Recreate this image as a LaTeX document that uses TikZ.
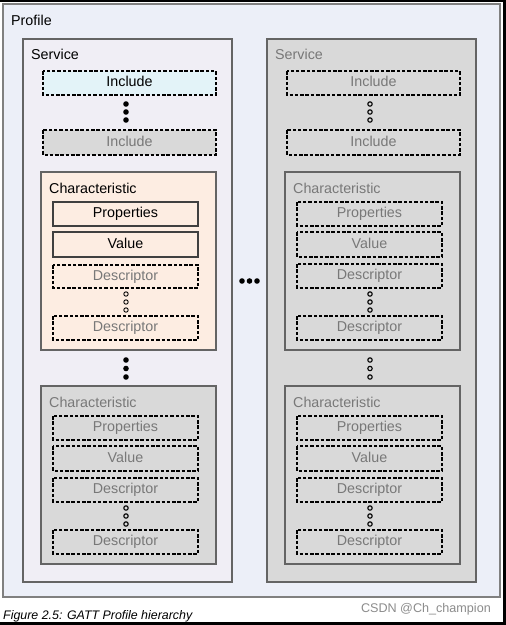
\documentclass[tikz,border=0pt]{standalone}
\usepackage{fontspec}
\setsansfont{Liberation Sans}
\definecolor{profbg}{RGB}{236,239,248}
\definecolor{servbg}{RGB}{240,238,245}
\definecolor{incbg}{RGB}{227,243,248}
\definecolor{charbg}{RGB}{253,237,226}
\definecolor{offbg}{RGB}{217,217,217}
\definecolor{offtxt}{RGB}{120,120,120}
\definecolor{edge}{RGB}{100,100,100}

\begin{document}
\begin{tikzpicture}[x=1pt, y=-1pt, font=\sffamily\fontsize{14.3}{17}\selectfont,
    grp/.style={draw=edge, line width=1.3pt},
    solidbox/.style={draw=black!75, line width=1.2pt},
    dashbox/.style={draw=black, line width=1.1pt, dash pattern=on 3.5pt off 1.8pt},
    lbl/.style={inner sep=0pt, text height=0.72em, text depth=0pt},
    title/.style={anchor=base west, inner sep=0pt},
    ring/.style={draw=black, line width=1.1pt}]
    \useasboundingbox (0,0) rectangle (506,625);
    \fill[white] (0,0) rectangle (506,625);
    \fill (0,0) rectangle (506,2);
    \fill (503,0) rectangle (506,625);
    \fill (0,622) rectangle (506,625);

    % profile
    \draw[fill=profbg, draw=gray, line width=1.2pt] (3,4) rectangle (500,597);
    \node[title] (profile) at (11,25) {Profile};

    % left service
    \draw[grp, fill=servbg] (23,39) rectangle (232,582);
    \node[title] (servL) at (31,59) {Service};
    \draw[dashbox, fill=incbg] (43,71) rectangle (216,95) node[midway, lbl] (incL1) {Include};
    \foreach \y in {104,112,120} \fill (126,\y) circle (2.8);
    \draw[dashbox, fill=offbg] (43,130) rectangle (216,155) node[midway, lbl, text=offtxt] (incL2) {Include};

    \draw[grp, fill=charbg] (41,172) rectangle (216,350);
    \node[title] (charL1) at (49,193) {Characteristic};
    \draw[solidbox, fill=charbg] (53,202) rectangle (198,226) node[midway, lbl] (propL1) {Properties};
    \draw[solidbox, fill=charbg] (53,232) rectangle (198,257) node[midway, lbl] (valL1) {Value};
    \draw[dashbox] (53,265) rectangle (198,288) node[midway, lbl, text=offtxt] (descL1a) {Descriptor};
    \foreach \y in {294,302,310} \draw[ring, line width=0.9pt] (126,\y) circle (2.2);
    \draw[dashbox] (53,316) rectangle (198,340) node[midway, lbl, text=offtxt] (descL1b) {Descriptor};
    \foreach \y in {360,368.5,377} \fill (126,\y) circle (2.8);

    % right service
    \draw[grp, fill=offbg] (267,39) rectangle (476,582);
    \node[title, text=offtxt] (servR) at (275,59) {Service};
    \draw[dashbox] (287,71) rectangle (460,95) node[midway, lbl, text=offtxt] (incR1) {Include};
    \foreach \y in {104,112,120} \draw[ring] (370,\y) circle (2.2);
    \draw[dashbox] (287,130) rectangle (460,155) node[midway, lbl, text=offtxt] (incR2) {Include};
    \foreach \y in {360,368.5,377} \draw[ring] (370,\y) circle (2.2);

    % greyed characteristics
    \foreach \cx/\cy/\k in {0/214/L2, 244/0/R1, 244/214/R2} {
        \begin{scope}[shift={(\cx,\cy)}]
            \draw[grp, fill=offbg] (41,172) rectangle (216,350);
            \node[title, text=offtxt] (char\k) at (49,193) {Characteristic};
            \draw[dashbox] (53,202) rectangle (198,226) node[midway, lbl, text=offtxt] (prop\k) {Properties};
            \draw[dashbox] (53,232) rectangle (198,257) node[midway, lbl, text=offtxt] (val\k) {Value};
            \draw[dashbox] (53,264) rectangle (198,288) node[midway, lbl, text=offtxt] (desc\k a) {Descriptor};
            \foreach \y in {294,302,310} \draw[ring] (126,\y) circle (2.2);
            \draw[dashbox] (53,316) rectangle (198,340) node[midway, lbl, text=offtxt] (desc\k b) {Descriptor};
        \end{scope}
    }

    % between services
    \foreach \x in {242,249.5,257} \fill (\x,281) circle (2.8);

    \node[title, font=\sffamily\itshape\fontsize{12.4}{15}\selectfont] (caption) at (3,619) {Figure 2.5: GATT Profile hierarchy};
    \node[anchor=base east, inner sep=0pt, text=black!45, font=\sffamily\fontsize{12.6}{15}\selectfont] (mark) at (491,612.5) {CSDN @Ch\_champion};
\end{tikzpicture}
\end{document}
